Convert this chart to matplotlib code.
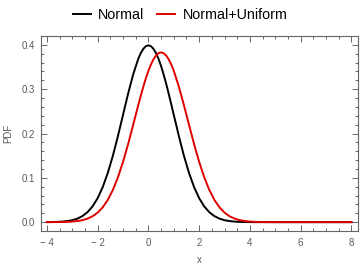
import matplotlib
matplotlib.use("Agg")
import matplotlib.pyplot as plt
from matplotlib.ticker import MultipleLocator, FuncFormatter

# values
x = [-4.0, -3.8, -3.6, -3.4, -3.2, -3.0, -2.8, -2.6, -2.4, -2.2, -2.0,
     -1.8, -1.6, -1.4, -1.2, -1.0, -0.8, -0.6, -0.4, -0.3, -0.2, -0.1, 0.0,
     0.1, 0.2, 0.3, 0.4, 0.5, 0.6, 0.7, 0.8, 0.9, 1.0, 1.2, 1.4, 1.6, 1.8, 2.0,
     2.2, 2.4, 2.6, 2.8, 3.0, 3.2, 3.4, 3.6, 3.8, 4.0,
     4.2, 4.4, 4.6, 4.8, 5.0, 6.0, 7.0, 8.0]
normal = [0.0001, 0.0003, 0.0006, 0.0012, 0.0024, 0.0044, 0.0079, 0.0136, 0.0224, 0.0355, 0.0540,
          0.0790, 0.1109, 0.1497, 0.1942, 0.2420, 0.2897, 0.3332, 0.3683, 0.3814, 0.3910, 0.3970, 0.3989,
          0.3970, 0.3910, 0.3814, 0.3683, 0.3521, 0.3332, 0.3123, 0.2897, 0.2661, 0.2420, 0.1942, 0.1497, 0.1109, 0.0790, 0.0540,
          0.0355, 0.0224, 0.0136, 0.0079, 0.0044, 0.0024, 0.0012, 0.0006, 0.0003, 0.0001,
          0.0, 0.0, 0.0, 0.0, 0.0, 0.0, 0.0, 0.0]
normal_uniform = [0.00003, 0.00007, 0.00016, 0.00033, 0.00067, 0.00132, 0.00249, 0.00450, 0.00786, 0.01321, 0.02140,
                  0.03337, 0.05014, 0.07256, 0.10117, 0.13591, 0.17593, 0.21945, 0.26382, 0.28529, 0.30567, 0.32450, 0.34134,
                  0.35577, 0.36740, 0.37595, 0.38117, 0.38292, 0.38117, 0.37595, 0.36740, 0.35577, 0.34134,
                  0.30567, 0.26382, 0.21945, 0.17593, 0.13591,
                  0.10117, 0.07256, 0.05014, 0.03337, 0.02140, 0.01321, 0.00786, 0.00450, 0.00249, 0.00132,
                  0.00067, 0.00033, 0.00016, 0.00007, 0.00003, 0.0, 0.0, 0.0]
x_ticks = [-4, -2, 0, 2, 4, 6, 8]
y_ticks = [0.0, 0.1, 0.2, 0.3, 0.4]

plt.rcParams['font.family'] = ['Liberation Sans', 'DejaVu Sans']

fig = plt.figure(figsize=(3.6, 2.7), dpi=100)
ax = fig.add_axes([0.1125, 0.1444, 0.8815, 0.7223])

ax.plot(x, normal, color='black', lw=1.4, label='Normal')
ax.plot(x, normal_uniform, color='#e00000', lw=1.4, label='Normal+Uniform')

ax.set_xlim(-4.25, 8.25)
ax.set_ylim(-0.02, 0.42)
ax.set_xticks(x_ticks)
ax.set_yticks(y_ticks)
ax.xaxis.set_minor_locator(MultipleLocator(0.5))
ax.yaxis.set_minor_locator(MultipleLocator(0.02))
ax.xaxis.set_major_formatter(FuncFormatter(lambda v, p: ('\u2212 %d' % -v) if v < 0 else '%d' % v))
ax.yaxis.set_major_formatter(FuncFormatter(lambda v, p: '%.1f' % v))

grey = '#666666'
for s in ax.spines.values():
    s.set_color(grey)
    s.set_linewidth(0.8)
ax.tick_params(which='both', direction='in', top=True, right=True, color=grey,
               labelsize=7, labelcolor='#5a5a5a', width=0.7)
ax.tick_params(which='major', length=4)
ax.tick_params(which='minor', length=2.3)
ax.tick_params(axis='x', pad=5)
ax.tick_params(axis='y', pad=4)

ax.set_xlabel('x', fontsize=7, color='#5a5a5a', labelpad=5)
ax.set_ylabel('PDF', fontsize=7, color='#5a5a5a', labelpad=6)

fig.legend(loc='center', bbox_to_anchor=(0.5, 0.944), ncol=2, frameon=False,
           fontsize=10.3, handlelength=1.3, handletextpad=0.5, columnspacing=0.85)

fig.savefig('out.png', dpi=100)
